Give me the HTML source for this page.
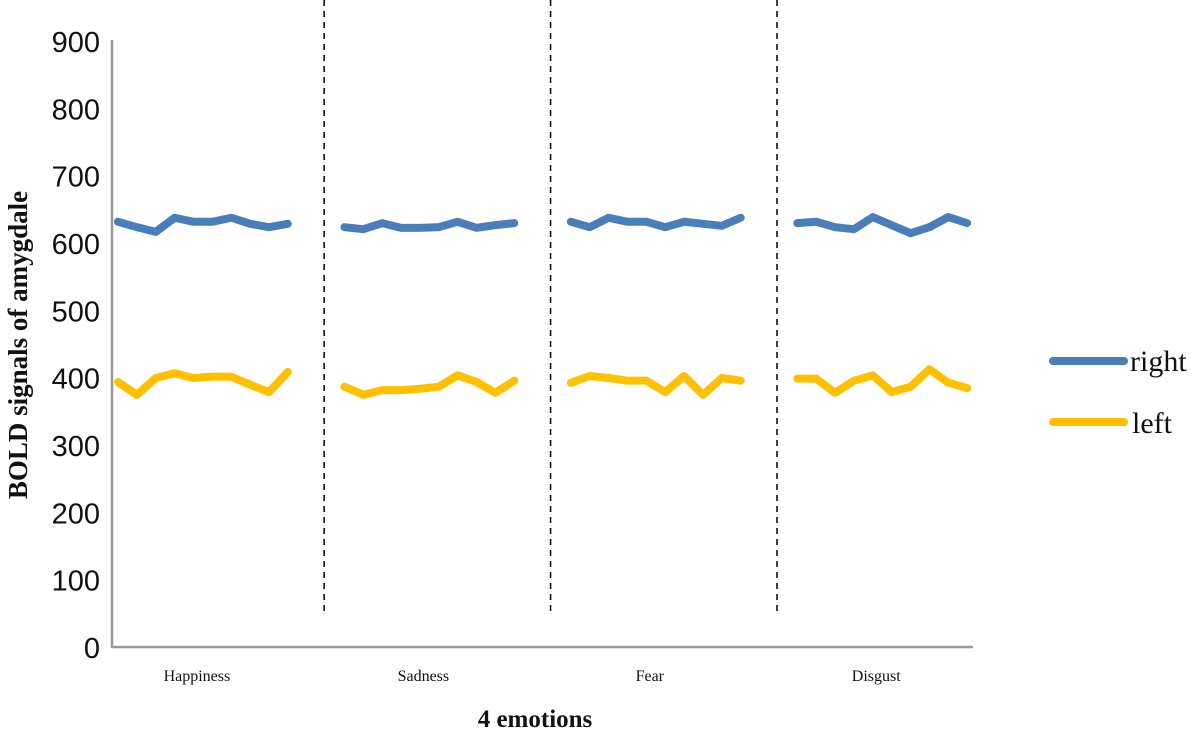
<!DOCTYPE html>
<html><head><meta charset="utf-8"><style>
body{margin:0;background:#fff;}
svg text{font-family:"Liberation Serif",serif;}
svg text.tick{font-family:"Liberation Sans",sans-serif;}
</style></head><body>
<svg id="chart" width="1200" height="731" viewBox="0 0 1200 731" xmlns="http://www.w3.org/2000/svg"></svg>
<script>
const groups = ["Happiness","Sadness","Fear","Disgust"];
const yTicks = [0,100,200,300,400,500,600,700,800,900];
const rightSeries = [
 [633,625,618,639,633,633,639,630,625,630],
 [625,622,631,624,624,625,633,624,628,631],
 [633,625,639,633,633,625,633,630,627,639],
 [631,633,625,622,640,628,616,625,640,631]
];
const leftSeries = [
 [395,376,401,408,401,403,403,391,380,410],
 [388,376,383,383,385,388,405,395,379,397],
 [394,404,401,397,397,380,404,376,401,397],
 [400,400,379,397,405,380,388,414,394,386]
];
const NS="http://www.w3.org/2000/svg";
const svg=document.getElementById('chart');
const y0=648,y1=42,yMax=900;
const yScale=v=>y0-(v/yMax)*(y0-y1);
const xStart=118,step=18.87,ptsPer=10,gap=2;
const xScale=(g,i)=>xStart+(g*(ptsPer+gap)+i)*step;
function mk(tag,attrs,txt){const e=document.createElementNS(NS,tag);for(const k in attrs)e.setAttribute(k,attrs[k]);if(txt!==undefined)e.textContent=txt;svg.appendChild(e);return e;}
let e=mk('line',{x1:112,y1:40,x2:112,y2:648,stroke:'#999','stroke-width':2.5});


e=mk('line',{x1:112,y1:647,x2:973,y2:647,stroke:'#999','stroke-width':2.5});


yTicks.forEach(t=>{
 const el=mk('text',{x:100,y:yScale(t)+10,'text-anchor':'end','font-size':29,fill:'#111','class':'tick'},t);
 
 
});
groups.forEach((g,gi)=>{
 const cx=(xScale(gi,0)+xScale(gi,ptsPer-1))/2-6;
 const el=mk('text',{x:cx,y:681,'text-anchor':'middle','font-size':16,fill:'#111'},g);
 
 
 if(gi>0){
  const sx=(xScale(gi-1,ptsPer-1)+xScale(gi,0))/2+8;
  const d=mk('line',{x1:sx,y1:0,x2:sx,y2:612,stroke:'#000','stroke-width':1.5,'stroke-dasharray':'6,5'});
  
  
 }
});
function drawSeries(data,color,name){
 data.forEach((arr,gi)=>{
  const pts=arr.map((v,i)=>xScale(gi,i)+','+yScale(v)).join(' ');
  const p=mk('polyline',{points:pts,fill:'none',stroke:color,'stroke-width':8,'stroke-linejoin':'round','stroke-linecap':'round'});
  
  
 });
}
drawSeries(rightSeries,'#4a7ebb','right');
drawSeries(leftSeries,'#ffc000','left');
e=mk('text',{x:535,y:727,'text-anchor':'middle','font-size':25,'font-weight':'bold',fill:'#111'},'4 emotions');


e=mk('text',{x:0,y:0,'text-anchor':'middle','font-size':27,'font-weight':'bold',fill:'#111',transform:'translate(27,345) rotate(-90)'},'BOLD signals of amygdale');


e=mk('line',{x1:1053,y1:361,x2:1124,y2:361,stroke:'#4a7ebb','stroke-width':8,'stroke-linecap':'round'});


e=mk('text',{x:1130,y:371,'font-size':30,fill:'#111'},'right');


e=mk('line',{x1:1053,y1:422,x2:1124,y2:422,stroke:'#ffc000','stroke-width':8,'stroke-linecap':'round'});


e=mk('text',{x:1132,y:433,'font-size':30,fill:'#111'},'left');


</script>
</body></html>
